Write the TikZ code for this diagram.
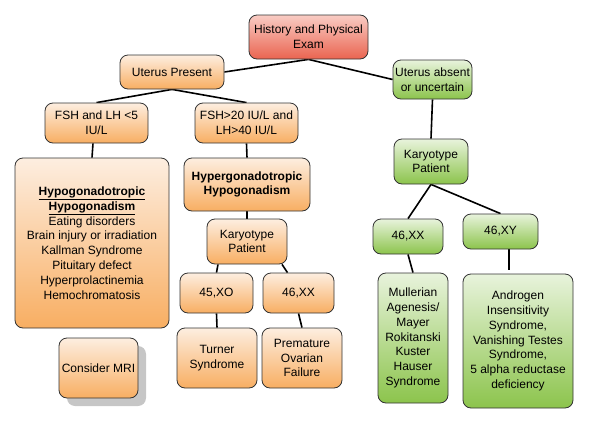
\documentclass[tikz,border=0pt]{standalone}
\usepackage{fontspec}
\setmainfont{Liberation Sans}
\usetikzlibrary{backgrounds}
\definecolor{otop}{HTML}{FDEEE0}
\definecolor{obot}{HTML}{F8AE62}
\definecolor{gtop}{HTML}{E8F3DC}
\definecolor{gbot}{HTML}{8CC44C}
\definecolor{rtop}{HTML}{F9CCC4}
\definecolor{rbot}{HTML}{EA6450}
\definecolor{edge}{HTML}{333333}
\newcommand{\ulbf}[1]{\underline{\textbf{#1}}}
\tikzset{
  box/.style={draw=edge, line width=0.8pt, rounded corners=8pt, align=center, inner sep=0pt,
    font=\fontsize{12}{14.8}\selectfont},
  obox/.style={box, top color=otop, bottom color=obot},
  gbox/.style={box, top color=gtop, bottom color=gbot},
  rbox/.style={box, top color=rtop, bottom color=rbot},
  conn/.style={draw=black, line width=1.6pt},
  sz/.style 2 args={minimum width=#1pt, minimum height=#2pt},
}
\begin{document}
\begin{tikzpicture}
\useasboundingbox (0,0) rectangle (590pt,-426pt);
% nodes
\node[rbox, sz={119}{44}] (hp) at (308.5pt,-37pt) {History and Physical\\Exam};
\node[obox, sz={104}{34}] (up) at (172pt,-72pt) {Uterus Present};
\node[gbox, sz={79}{39}] (ua) at (432.5pt,-79.5pt) {Uterus absent\\or uncertain};
\node[obox, sz={103}{40}] (fl) at (96.5pt,-123pt) {FSH and LH <5\\IU/L};
\node[obox, sz={103}{40}] (fh) at (246.5pt,-123pt) {FSH>20 IU/L and\\LH>40 IU/L};
\node[obox, sz={154}{170}] (hypo) at (92pt,-243pt) {\ulbf{Hypogonadotropic}\\\ulbf{Hypogonadism}\\Eating disorders\\Brain injury or irradiation\\Kallman Syndrome\\Pituitary defect\\Hyperprolactinemia\\Hemochromatosis};
\node[obox, sz={126}{53}] (hyper) at (247pt,-184.5pt) {\textbf{Hypergonadotropic}\\\textbf{Hypogonadism}};
\node[obox, sz={80}{45}] (kl) at (247pt,-241.5pt) {Karyotype\\Patient};
\node[obox, sz={73}{40}] (xo) at (216.5pt,-293pt) {45,XO};
\node[obox, sz={71}{40}] (xxl) at (298.5pt,-293pt) {46,XX};
\node[obox, sz={80}{60}] (tu) at (217pt,-358pt) {Turner\\Syndrome};
\node[obox, sz={80}{60}] (pof) at (302pt,-358pt) {Premature\\Ovarian\\Failure};
\fill[gray!45, rounded corners=8pt] (67pt,-346pt) rectangle (146pt,-406pt);
\node[obox, sz={79}{60}] (mri) at (98.5pt,-368pt) {Consider MRI};
\node[gbox, sz={74}{45}] (kr) at (431pt,-161.5pt) {Karyotype\\Patient};
\node[gbox, sz={70}{35}] (xxr) at (408pt,-236.5pt) {46,XX};
\node[gbox, sz={75}{35}] (xy) at (500.5pt,-231.5pt) {46,XY};
\node[gbox, sz={70}{130}] (mul) at (413pt,-338pt) {Mullerian\\Agenesis/\\Mayer\\Rokitanski\\Kuster\\Hauser\\Syndrome};
\node[gbox, sz={110}{134}] (and) at (518pt,-341pt) {Androgen\\Insensitivity\\Syndrome,\\Vanishing Testes\\Syndrome,\\5 alpha reductase\\deficiency};
% connectors
\begin{scope}[on background layer]
\draw[conn] (hp.south) -- (up.east);
\draw[conn] (hp.south) -- (ua.west);
\draw[conn] (up.south) -- (fl.north);
\draw[conn] (up.south) -- (fh.north);
\draw[conn] ([xshift=-3.5pt]fl.south) -- (hypo.north);
\draw[conn] (fh.south) -- (hyper.north);
\draw[conn] (hyper.south) -- (kl.north);
\draw[conn] ([xshift=-29pt]kl.south) -- ([xshift=0pt]xo.north);
\draw[conn] ([xshift=35pt]kl.south) -- ([xshift=-11pt]xxl.north);
\draw[conn] (xo.south) -- (tu.north);
\draw[conn] (xxl.south) -- (pof.north);
\draw[conn] (ua.south) -- (kr.north);
\draw[conn] (kr.south) -- (xxr.north);
\draw[conn] (kr.south) -- (xy.north);
\draw[conn] (xxr.south) -- (mul.north);
\draw[conn] ([xshift=8.5pt]xy.south) -- ([xshift=-9pt,yshift=4pt]and.north);
\end{scope}
\end{tikzpicture}
\end{document}
